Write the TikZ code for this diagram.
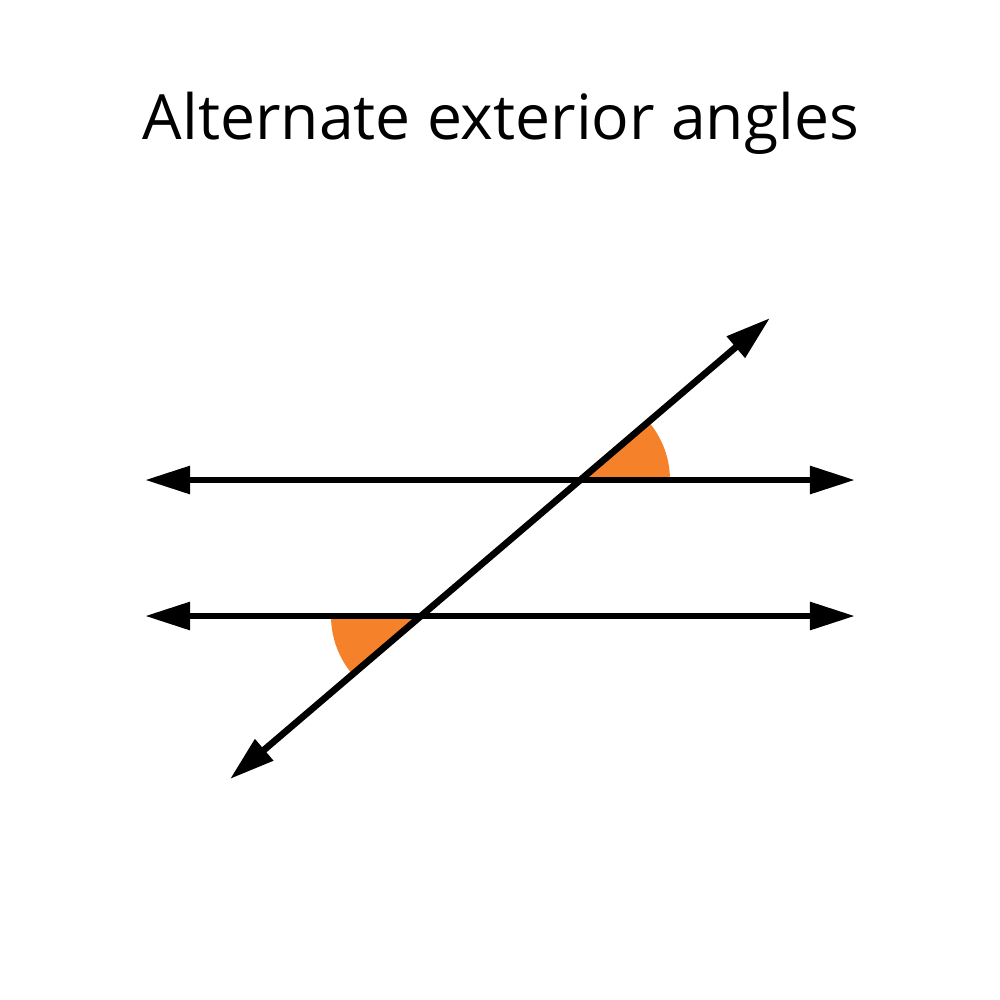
\documentclass[tikz,border=0pt]{standalone}
\usepackage{fontspec}
\setmainfont{Open Sans}
\usetikzlibrary{arrows.meta,calc,positioning}
\tikzset{
    parallel/.style={>={Triangle[length=12.8pt,width=7.6pt]},line width=1.9pt},
    angle/.style={fill=angleorange},
    title/.style={font=\fontsize{17.75pt}{21pt}\selectfont,anchor=base},
    }
\definecolor{angleorange}{HTML}{F5822A}

\begin{document}
\begin{tikzpicture}[x=0.01cm,y=-0.01cm]
            \useasboundingbox (0,0) rectangle (1000,1000);
            \node[title] (t) at (501,139) {Alternate exterior angles};

            \coordinate (l1) at (145,480);
            \coordinate (r1) at (855,480);
            \coordinate (l2) at (145,616);
            \coordinate (r2) at (855,616);
            \coordinate (x1) at (580,480);
            \coordinate (x2) at (421,616);
            \coordinate (top) at (770,318);
            \coordinate (bot) at (230,779);

            % shaded angles
            \fill[angle] (x1) -- ++(90,0) arc[start angle=0,end angle=-40.5,radius=90] -- cycle;
            \fill[angle] (x2) -- ++(-90,0) arc[start angle=180,end angle=139.5,radius=90] -- cycle;

            \path[parallel,<->] (l1) edge (r1);
            \path[parallel,<->] (l2) edge (r2);
            \path[parallel,<->] (bot) edge (top);
        \end{tikzpicture}
\end{document}
